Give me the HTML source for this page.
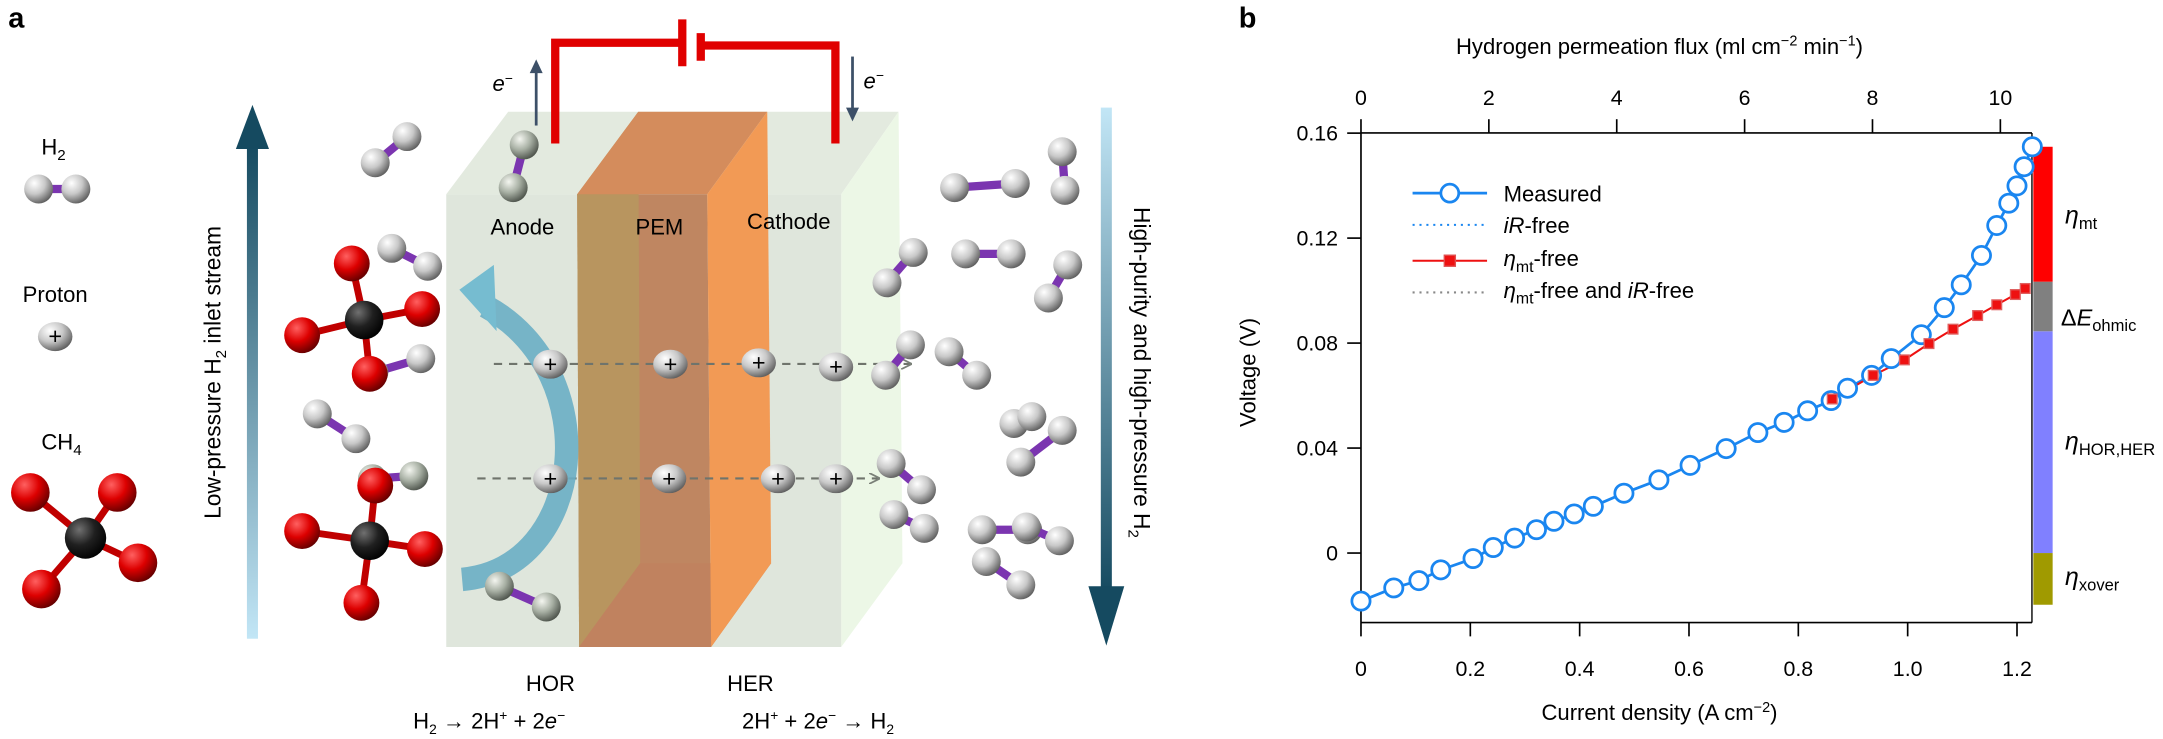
<!DOCTYPE html>
<html><head><meta charset="utf-8"><style>
html,body{margin:0;padding:0;background:#fff;}
svg{display:block;font-family:"Liberation Sans",sans-serif;}
</style></head><body>
<svg id="fig" width="2163" height="739" viewBox="0 0 1568 535.7" preserveAspectRatio="none" xmlns="http://www.w3.org/2000/svg">
<defs>
<radialGradient id="gH" cx="35%" cy="30%" r="75%"><stop offset="0" stop-color="#ffffff"/><stop offset="0.5" stop-color="#c8c8c8"/><stop offset="1" stop-color="#5a5a5a"/></radialGradient>
<radialGradient id="gHg" cx="35%" cy="30%" r="75%"><stop offset="0" stop-color="#f4f6f0"/><stop offset="0.5" stop-color="#a8b0a4"/><stop offset="1" stop-color="#4a5048"/></radialGradient>
<radialGradient id="gR" cx="35%" cy="30%" r="75%"><stop offset="0" stop-color="#ff6060"/><stop offset="0.5" stop-color="#dd0000"/><stop offset="1" stop-color="#600000"/></radialGradient>
<radialGradient id="gC" cx="35%" cy="30%" r="75%"><stop offset="0" stop-color="#707070"/><stop offset="0.5" stop-color="#202020"/><stop offset="1" stop-color="#000"/></radialGradient>
<linearGradient id="gUp" x1="0" y1="1" x2="0" y2="0"><stop offset="0" stop-color="#c2e6f6"/><stop offset="1" stop-color="#154a60"/></linearGradient>
<linearGradient id="gDown" x1="0" y1="0" x2="0" y2="1"><stop offset="0" stop-color="#c2e6f6"/><stop offset="1" stop-color="#154a60"/></linearGradient>
<marker id="ahG" markerWidth="8" markerHeight="8" refX="7" refY="4" orient="auto" markerUnits="userSpaceOnUse"><path d="M0,0 L8,4 L0,8" fill="none" stroke="#7a8078" stroke-width="1.3"/></marker>
</defs>

<g id="panelA">
<text x="6" y="20" font-size="21" font-weight="bold">a</text>
<text x="30" y="112" font-size="16">H<tspan dy="4" font-size="11">2</tspan></text>
<text x="40" y="219" font-size="16" text-anchor="middle">Proton</text>
<text x="30" y="326" font-size="16">CH<tspan dy="4" font-size="11">4</tspan></text>

<rect x="179" y="103" width="8" height="360" fill="url(#gUp)"/>
<polygon points="183,76 171,108 195,108" fill="#154a60"/>
<text transform="translate(160,270) rotate(-90)" font-size="16.5" text-anchor="middle">Low-pressure H<tspan dy="4" font-size="11">2</tspan><tspan dy="-4"> inlet stream</tspan></text>

<rect x="798" y="78" width="8" height="352" fill="url(#gDown)"/>
<polygon points="802,468 789,425 815,425" fill="#154a60"/>
<text transform="translate(822,270) rotate(90)" font-size="16.5" text-anchor="middle">High-purity and high-pressure H<tspan dy="4" font-size="11">2</tspan></text>

<g>
<polygon points="323.5,140.8 368.4,81 651.4,81 609.8,140.8" fill="#e3eadf"/>
<polygon points="609.8,140.8 651.4,81 654.2,408.3 609.8,469" fill="#ecf7e6"/>
<rect x="323.5" y="140.8" width="286.3" height="328.2" fill="#dfe6dc"/>
<polygon points="418.4,140.8 512.7,140.8 515.5,469 419.8,469" fill="#bf8661"/>
<polygon points="418.4,140.8 462.7,81 464.1,408.3 419.8,469" fill="#b8955f"/>
<polygon points="464.1,408.3 419.8,469 515.5,469 559,408.3" fill="#c0825f"/>
<polygon points="418.4,140.8 462.7,81 556.2,81 512.7,140.8" fill="#d48c5c"/>
<polygon points="512.7,140.8 556.2,81 559,408.3 515.5,469" fill="#f29a55"/>
</g>

<g fill="none" stroke-linecap="butt">
<polyline points="402.5,104 402.5,31 494.6,31" stroke="#e00000" stroke-width="6"/>
<polyline points="508,33 605.6,33 605.6,104" stroke="#e00000" stroke-width="6"/>
<line x1="494.6" y1="14" x2="494.6" y2="48" stroke="#e00000" stroke-width="6"/>
<line x1="508" y1="24" x2="508" y2="44" stroke="#e00000" stroke-width="6"/>
</g>
<g>
<line x1="388.7" y1="91" x2="388.7" y2="50" stroke="#3d5068" stroke-width="2"/>
<polygon points="388.7,43 384,53 393.4,53" fill="#3d5068"/>
<line x1="618" y1="41" x2="618" y2="80" stroke="#3d5068" stroke-width="2"/>
<polygon points="618,88 613.3,78 622.7,78" fill="#3d5068"/>
<text x="357" y="66" font-size="16" font-style="italic">e<tspan dy="-6" font-size="10" font-style="normal">−</tspan></text>
<text x="626" y="64" font-size="16" font-style="italic">e<tspan dy="-6" font-size="10" font-style="normal">−</tspan></text>
</g>

<text x="378.7" y="170" font-size="16" text-anchor="middle">Anode</text>
<text x="478" y="170" font-size="16" text-anchor="middle">PEM</text>
<text x="571.8" y="166" font-size="16" text-anchor="middle">Cathode</text>

<text x="399" y="501" font-size="16" text-anchor="middle">HOR</text>
<text x="354.6" y="528" font-size="16" text-anchor="middle">H<tspan dy="4" font-size="10">2</tspan><tspan dy="-4"> → 2H</tspan><tspan dy="-6" font-size="10">+</tspan><tspan dy="6"> + 2</tspan><tspan font-style="italic">e</tspan><tspan dy="-6" font-size="10">−</tspan></text>
<text x="544" y="501" font-size="16" text-anchor="middle">HER</text>
<text x="593" y="528" font-size="16" text-anchor="middle">2H<tspan dy="-6" font-size="10">+</tspan><tspan dy="6"> + 2</tspan><tspan font-style="italic">e</tspan><tspan dy="-6" font-size="10">−</tspan><tspan dy="6"> → H</tspan><tspan dy="4" font-size="10">2</tspan></text>

<line x1="358" y1="263.8" x2="660" y2="263.8" stroke="#6f746c" stroke-width="1.5" stroke-dasharray="6,5" marker-end="url(#ahG)"/>
<line x1="346" y1="346.8" x2="637" y2="346.8" stroke="#6f746c" stroke-width="1.5" stroke-dasharray="6,5" marker-end="url(#ahG)"/>

<path d="M335,420 C425,412 440,270 352,222" fill="none" stroke="#6aaec4" stroke-width="17" opacity="0.9"/>
<polygon points="333,210 358,192 360,240" fill="#76bcd0"/>

<g id="mols"></g>
</g>

<g id="panelB">
<text x="898" y="20" font-size="21" font-weight="bold">b</text>
<g id="axes"></g>
<g id="bars"></g>
<g id="series"></g>
<text x="1203" y="39" font-size="16" text-anchor="middle">Hydrogen permeation flux (ml cm<tspan dy="-6" font-size="10.5">−2</tspan><tspan dy="6"> min</tspan><tspan dy="-6" font-size="10.5">−1</tspan><tspan dy="6">)</tspan></text>
<text x="1203" y="522" font-size="16" text-anchor="middle">Current density (A cm<tspan dy="-6" font-size="10.5">−2</tspan><tspan dy="6">)</tspan></text>
<text transform="translate(910,270) rotate(-90)" font-size="16" text-anchor="middle">Voltage (V)</text>

<g>
<g><line x1="1024" y1="140" x2="1078" y2="140" stroke="#1a86f0" stroke-width="2"/><circle cx="1051" cy="140" r="6.5" fill="#fff" stroke="#1a86f0" stroke-width="2"/><text x="1090" y="146" font-size="16">Measured</text></g>
<g><line x1="1024" y1="163" x2="1078" y2="163" stroke="#1a86f0" stroke-width="1.5" stroke-dasharray="1.5,3.5"/><text x="1090" y="169" font-size="16"><tspan font-style="italic">iR</tspan>-free</text></g>
<g><line x1="1024" y1="189" x2="1078" y2="189" stroke="#ee1111" stroke-width="1.5"/><rect x="1047" y="185" width="8" height="8" fill="#ee1111" stroke="#e05050"/><text x="1090" y="193" font-size="16"><tspan font-style="italic">η</tspan><tspan dy="4" font-size="11.5">mt</tspan><tspan dy="-4">-free</tspan></text></g>
<g><line x1="1024" y1="212" x2="1078" y2="212" stroke="#888" stroke-width="1.5" stroke-dasharray="1.5,3.5"/><text x="1090" y="216" font-size="16"><tspan font-style="italic">η</tspan><tspan dy="4" font-size="11.5">mt</tspan><tspan dy="-4">-free and </tspan><tspan font-style="italic">iR</tspan>-free</text></g>
</g>

<text x="1497" y="162" font-size="18"><tspan font-style="italic">η</tspan><tspan dy="4" font-size="12">mt</tspan></text>
<text x="1494" y="236" font-size="17">Δ<tspan font-style="italic">E</tspan><tspan dy="4" font-size="12">ohmic</tspan></text>
<text x="1497" y="326" font-size="18"><tspan font-style="italic">η</tspan><tspan dy="4" font-size="12">HOR,HER</tspan></text>
<text x="1497" y="424" font-size="18"><tspan font-style="italic">η</tspan><tspan dy="4" font-size="12">xover</tspan></text>
</g>

<script>
const measuredJ = [0,0.06,0.106,0.146,0.205,0.242,0.281,0.321,0.353,0.39,0.425,0.481,0.545,0.602,0.668,0.726,0.774,0.817,0.86,0.89,0.934,0.97,1.025,1.067,1.098,1.135,1.163,1.185,1.2,1.213,1.228];
const measuredV = [-0.0183,-0.0133,-0.0105,-0.0064,-0.0021,0.0021,0.0057,0.0089,0.0121,0.0149,0.0178,0.0228,0.0279,0.0334,0.0398,0.0459,0.0498,0.0542,0.0581,0.0628,0.0677,0.0741,0.0832,0.0935,0.1022,0.1134,0.1248,0.1333,0.1399,0.1472,0.1548];
const mtFreeJ = [0.862,0.937,0.994,1.039,1.083,1.128,1.163,1.197,1.215];
const mtFreeV = [0.0587,0.0677,0.0736,0.0798,0.0853,0.0905,0.0946,0.0985,0.1008];
const xTicks = [0,0.2,0.4,0.6,0.8,1.0,1.2];
const xTickLabels = ["0","0.2","0.4","0.6","0.8","1.0","1.2"];
const topTicks = [0,2,4,6,8,10];
const yTicks = [0,0.04,0.08,0.12,0.16];
const yTickLabels = ["0","0.04","0.08","0.12","0.16"];
const barNames = ["xover","hor-her","ohmic","mt"];
const barLow = [-0.0197,0,0.0845,0.1034];
const barHigh = [0,0.0845,0.1034,0.1548];
const barColors = ["#a09a00","#8080ff","#808080","#ff0000"];

const NS="http://www.w3.org/2000/svg";
const X0=986.6, XU=396.3, FLUXU=46.35, Y0=400.9, YU=1902.5;
const TOP=96.4, BOT=451.3, RIGHT=1473;
function xs(j){return X0+j*XU;}
function xf(f){return X0+f*FLUXU;}
function ys(v){return Y0-v*YU;}
function mk(tag,attrs,parent){const e=document.createElementNS(NS,tag);for(const k in attrs)e.setAttribute(k,attrs[k]);parent.appendChild(e);return e;}

const axes=document.getElementById('axes');
let e;
e=mk('line',{x1:X0,y1:TOP,x2:RIGHT,y2:TOP,stroke:'#000','stroke-width':1.2},axes);


e=mk('line',{x1:X0,y1:BOT,x2:RIGHT,y2:BOT,stroke:'#000','stroke-width':1.2},axes);


e=mk('line',{x1:X0,y1:TOP,x2:X0,y2:BOT,stroke:'#000','stroke-width':1.2},axes);


e=mk('line',{x1:RIGHT,y1:TOP,x2:RIGHT,y2:BOT,stroke:'#000','stroke-width':1},axes);


xTicks.forEach((t,i)=>{
  e=mk('line',{x1:xs(t),y1:BOT,x2:xs(t),y2:BOT+10,stroke:'#000','stroke-width':1.2},axes);
  
  
  e=mk('text',{x:xs(t),y:490,'font-size':15.5,'text-anchor':'middle'},axes);
  e.textContent=xTickLabels[i];
  
  
});
topTicks.forEach(t=>{
  e=mk('line',{x1:xf(t),y1:TOP,x2:xf(t),y2:TOP-10,stroke:'#000','stroke-width':1.2},axes);
  
  
  e=mk('text',{x:xf(t),y:76,'font-size':15.5,'text-anchor':'middle'},axes);
  e.textContent=String(t);
  
  
});
yTicks.forEach((t,i)=>{
  e=mk('line',{x1:X0,y1:ys(t),x2:X0-10,y2:ys(t),stroke:'#000','stroke-width':1.2},axes);
  
  
  e=mk('text',{x:970,y:ys(t)+5.5,'font-size':15.5,'text-anchor':'end'},axes);
  e.textContent=yTickLabels[i];
  
  
});

const bars=document.getElementById('bars');
barNames.forEach((n,i)=>{
  e=mk('rect',{x:RIGHT+1,y:ys(barHigh[i]),width:14,height:ys(barLow[i])-ys(barHigh[i]),fill:barColors[i]},bars);
  
  
});

const ser=document.getElementById('series');
e=mk('polyline',{points:measuredJ.map((j,i)=>xs(j)+','+ys(measuredV[i])).join(' '),fill:'none',stroke:'#1a86f0','stroke-width':2},ser);


e=mk('polyline',{points:mtFreeJ.map((j,i)=>xs(j)+','+ys(mtFreeV[i])).join(' '),fill:'none',stroke:'#ee1111','stroke-width':1.5},ser);


measuredJ.forEach((j,i)=>{
  e=mk('circle',{cx:xs(j),cy:ys(measuredV[i]),r:6.6,fill:'#fff',stroke:'#1a86f0','stroke-width':2},ser);
  
  
});
mtFreeJ.forEach((j,i)=>{
  e=mk('rect',{x:xs(j)-3.5,y:ys(mtFreeV[i])-3.5,width:7,height:7,fill:'#ee1111',stroke:'#e06060','stroke-width':1},ser);
  
  
});

const mols=document.getElementById('mols');
const h2List=[[28,137,55,137,'gH'],[272,118,295,99,'gH'],[284,180,310,193,'gH'],[271,270,305,260,'gH'],[230,300,258,318,'gH'],[270,347,300,345,'gHg'],[380,105,372,136,'gHg'],[362,425,396,440,'gHg'],
[692,136,736,133,'gH'],[770,110,772,138,'gH'],[662,183,643,205,'gH'],[700,184,733,184,'gH'],[774,192,760,216,'gH'],[642,272,660,250,'gH'],[688,255,708,272,'gH'],[646,336,668,355,'gH'],[735,307,748,302,'gH'],[740,335,770,312,'gH'],[712,384,745,384,'gH'],[715,407,740,424,'gH'],[744,382,768,392,'gH'],[648,373,670,383,'gH']];
h2List.forEach(m=>{
  const g=mk('g',{},mols);
  
  
  mk('line',{x1:m[0],y1:m[1],x2:m[2],y2:m[3],stroke:'#7b35b0','stroke-width':6},g);
  mk('circle',{cx:m[0],cy:m[1],r:10.5,fill:'url(#'+m[4]+')'},g);
  mk('circle',{cx:m[2],cy:m[3],r:10.5,fill:'url(#'+m[4]+')'},g);
});
const ch4List=[[62,390,22,357,85,357,30,427,100,408,15],[264,232,255,191,219,243,306,224,268,271,14],[268,392,272,352,219,385,308,398,262,437,14]];
ch4List.forEach(m=>{
  const g=mk('g',{},mols);
  
  
  for(let k=2;k<10;k+=2) mk('line',{x1:m[0],y1:m[1],x2:m[k],y2:m[k+1],stroke:'#c00000','stroke-width':5},g);
  mk('circle',{cx:m[0],cy:m[1],r:m[10],fill:'url(#gC)'},g);
  for(let k=2;k<10;k+=2) mk('circle',{cx:m[k],cy:m[k+1],r:m[10]-1,fill:'url(#gR)'},g);
});
const protons=[[40,244],[399,264],[486,264],[550,263],[606,266],[399,347],[485,347],[564,347],[606,347]];
protons.forEach(p=>{
  const g=mk('g',{},mols);
  
  
  mk('ellipse',{cx:p[0],cy:p[1],rx:12.5,ry:10.5,fill:'url(#gH)'},g);
  const t=mk('text',{x:p[0],y:p[1]+5.5,'font-size':17,'text-anchor':'middle',fill:'#000'},g);
  t.textContent='+';
});
</script>
</svg>
</body></html>
